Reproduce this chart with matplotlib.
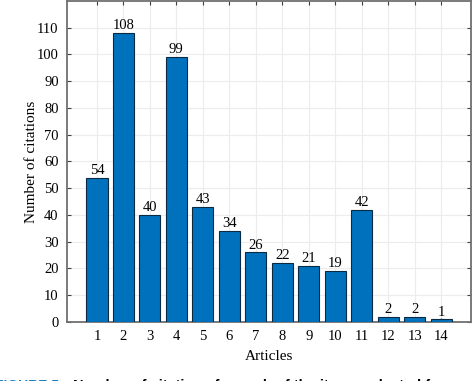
#Number of citations per article - bar chart in MATLAB style
import matplotlib
matplotlib.use('Agg')
import matplotlib.pyplot as plt
import numpy as np

#data
articles = [1, 2, 3, 4, 5, 6, 7, 8, 9, 10, 11, 12, 13, 14]
citations = [54, 108, 40, 99, 43, 34, 26, 22, 21, 19, 42, 2, 2, 1]
y_ticks = list(range(0, 120, 10))

plt.rcParams['font.family'] = ['Liberation Serif', 'DejaVu Serif']

fig = plt.figure(figsize=(4.74, 3.81), dpi=100)
ax = fig.add_axes([0.1414, 0.1549, 0.8523, 0.8425])

bars = ax.bar(articles, citations, width=0.8, color='#0072BD',
              edgecolor='#0a2a44', linewidth=0.8, zorder=3)

#value labels on top of each bar
for x, v in zip(articles, citations):
    ax.text(x, v + 0.3, str(v), ha='center', va='bottom', fontsize=10.5, zorder=4)

ax.set_xlim(-0.13, 15.13)
ax.set_ylim(0, 120)
ax.set_xticks(articles)
ax.set_yticks(y_ticks)
ax.tick_params(direction='in', length=3, width=0.8, color='#404040',
               labelsize=10.5, top=True, right=True, pad=6)
ax.grid(True, color='#ececec', linewidth=0.8, zorder=0)
ax.set_axisbelow(True)
for s in ax.spines.values():
    s.set_color('#707070')
    s.set_linewidth(1.3)

ax.set_xlabel('Articles', fontsize=11, labelpad=5)
ax.set_ylabel('Number of citations', fontsize=11, labelpad=-1)

#caption, cut off at the bottom edge like the source image
cap_y = 1 - 379 / 381
fig.text(-5 / 474, cap_y, 'FIGURE 5.', color='#1a7fc1', fontsize=10,
         fontweight='bold', family='Liberation Sans', va='top', ha='left')
fig.text(73 / 474, cap_y, 'Number of citations for each of the items selected for',
         color='black', fontsize=10.5, fontweight='bold', family='Liberation Sans',
         va='top', ha='left')

fig.savefig('out.png', dpi=100)
plt.close(fig)
